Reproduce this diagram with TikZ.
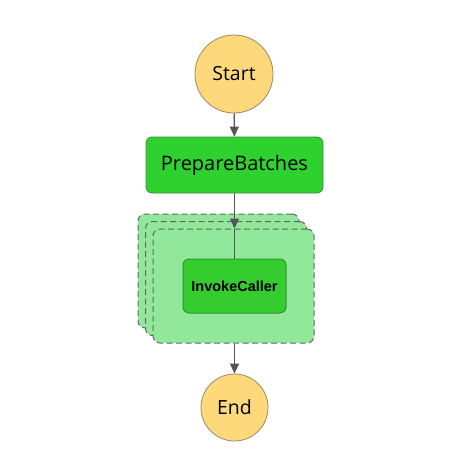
\documentclass[tikz,border=0pt]{standalone}
\usepackage{fontspec}
\setmainfont{Open Sans}
\newfontfamily\boldsans{Liberation Sans}
\usetikzlibrary{arrows.meta}
\definecolor{startfill}{HTML}{FDD97C}
\definecolor{startdraw}{HTML}{9C8A62}
\definecolor{taskfill}{HTML}{2FD12F}
\definecolor{taskdraw}{HTML}{3F8A3F}
\definecolor{mapfill}{HTML}{92E89A}
\definecolor{mapdraw}{HTML}{666666}
\definecolor{linecol}{HTML}{555555}
\definecolor{innerfill}{HTML}{35CC30}
\definecolor{innerdraw}{HTML}{2E9A2E}
\tikzset{
  terminal/.style={circle, fill=startfill, draw=startdraw, line width=0.8pt, inner sep=0pt, font=\fontsize{19.5}{22}\selectfont},
  taskbox/.style={rectangle, rounded corners=6pt, fill=taskfill, draw=taskdraw, line width=0.8pt, minimum width=177pt, minimum height=56pt, inner sep=0pt, font=\fontsize{20}{24}\selectfont},
  mapcard/.style={rectangle, rounded corners=7pt, fill=mapfill, draw=mapdraw, line width=1pt, dash pattern=on 6pt off 3.5pt, minimum width=161pt, minimum height=114pt, inner sep=0pt},
  innerbox/.style={rectangle, rounded corners=6pt, fill=innerfill, draw=innerdraw, line width=1pt, minimum width=103pt, minimum height=54pt, inner sep=0pt, font=\boldsans\bfseries\fontsize{14.5}{17}\selectfont},
  conn/.style={draw=linecol, line width=1.4pt, -{Triangle[length=10pt,width=9pt]}},
  plainconn/.style={draw=linecol, line width=1.4pt}
}
\begin{document}
\begin{tikzpicture}[x=1pt,y=-1pt]
\useasboundingbox (0,0) rectangle (474,474);
\node[terminal, minimum size=78pt] (start) at (234,74) {Start};
\node[taskbox] (prep) at (234.5,165) {PrepareBatches};
\node[mapcard] (card1) at (218.5,271) {};
\node[mapcard] (card2) at (226,278.5) {};
\node[mapcard] (card3) at (233.5,286) {};
\node[innerbox] (invoke) at (234.5,286) {InvokeCaller};
\node[terminal, minimum size=67pt] (end) at (234.5,407.5) {End};
\draw[conn] (start) -- (prep);
\draw[conn] (prep.south) -- (prep.south |- card3.north);
\draw[plainconn] (prep.south |- card3.north) -- (invoke.north -| prep.south);
\draw[conn] (card3.south -| end.north) -- (end);
\end{tikzpicture}
\end{document}
